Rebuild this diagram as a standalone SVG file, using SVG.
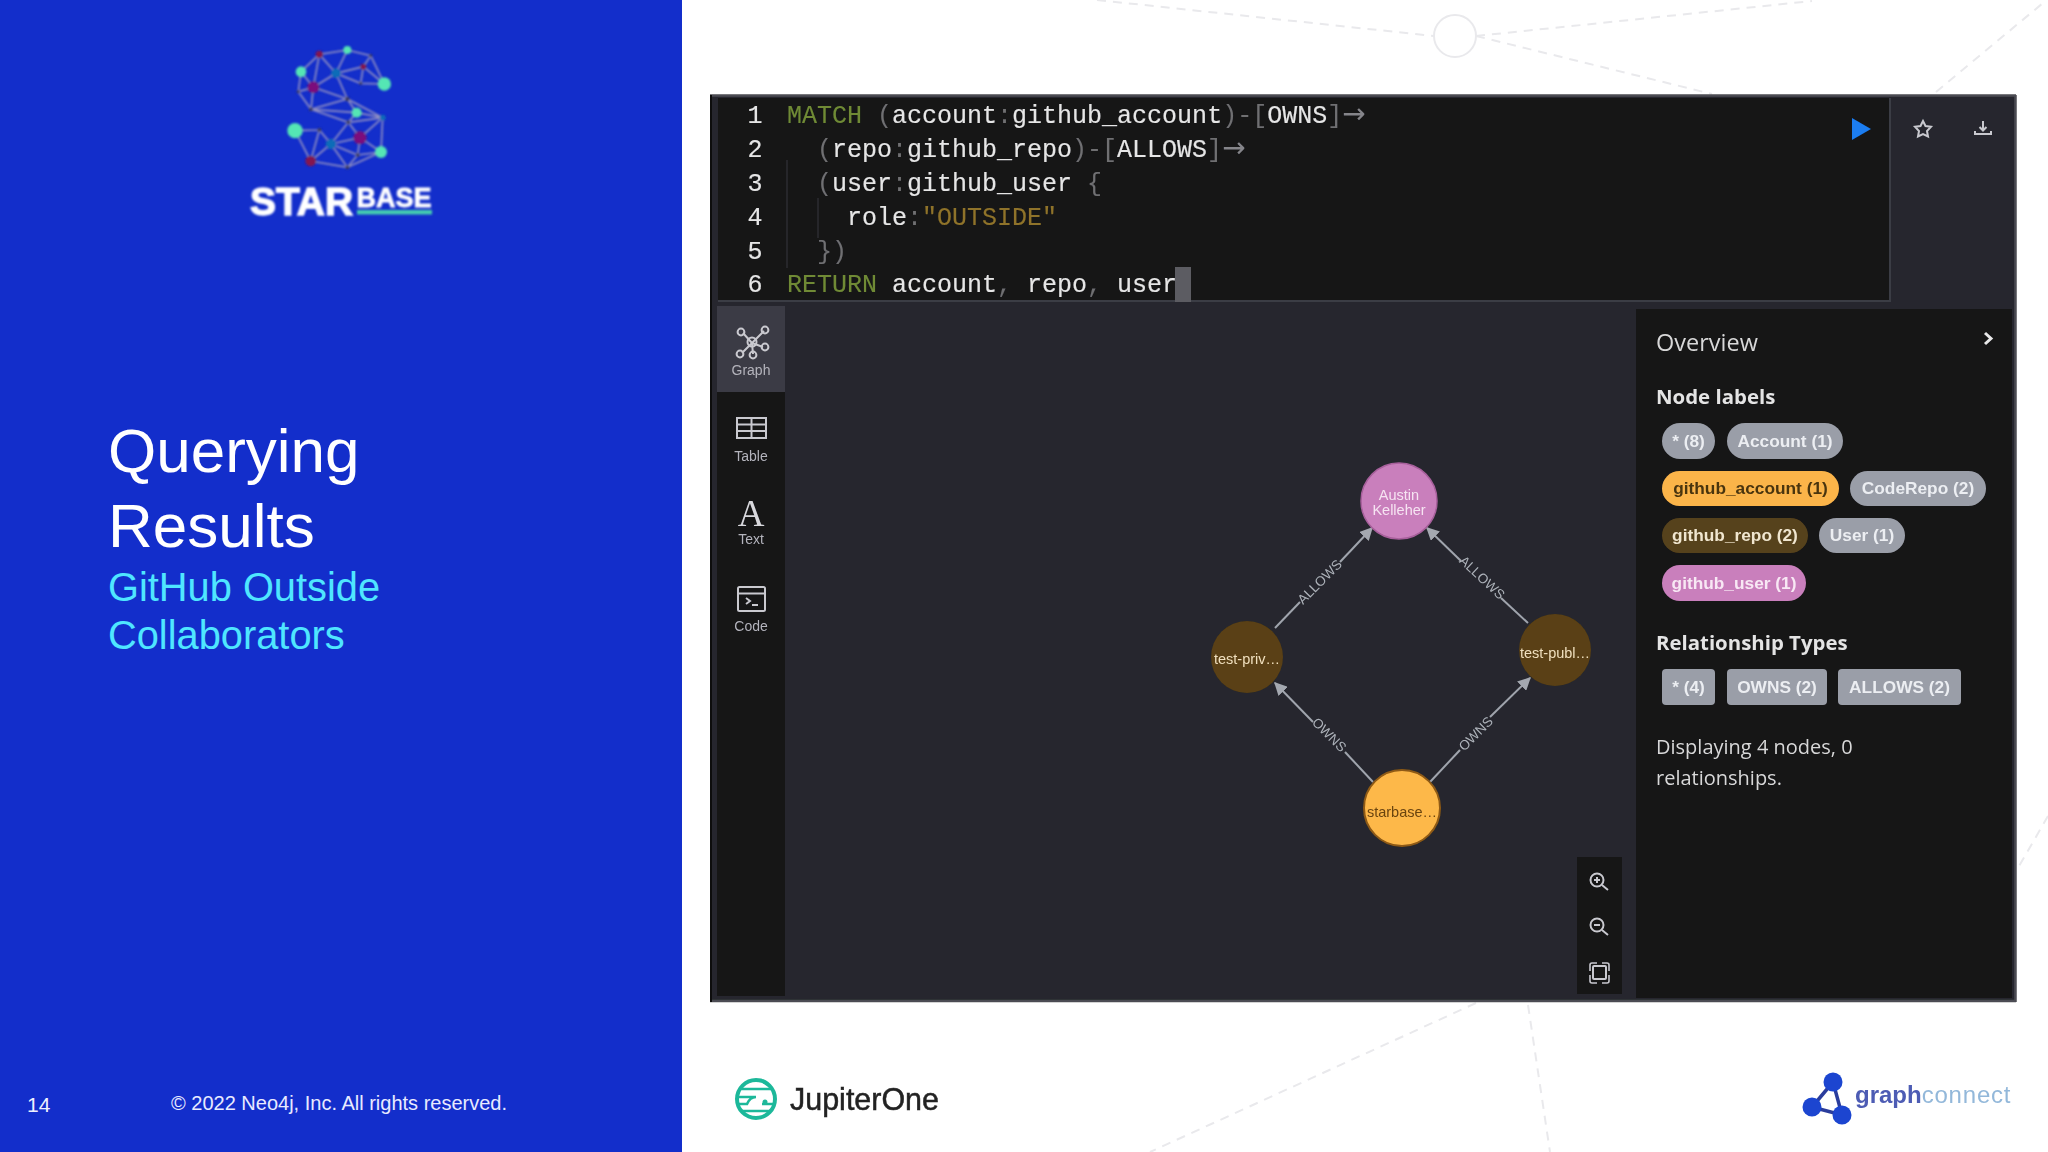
<svg xmlns="http://www.w3.org/2000/svg" width="2048" height="1152" viewBox="0 0 2048 1152">
<defs>
<filter id="soft" x="-5%" y="-5%" width="110%" height="110%"><feGaussianBlur stdDeviation="0.5"/></filter>
<filter id="softer" x="-5%" y="-5%" width="110%" height="110%"><feGaussianBlur stdDeviation="0.8"/></filter>
<marker id="arrow" viewBox="0 0 10 10" refX="9" refY="5" markerWidth="13" markerHeight="13" markerUnits="userSpaceOnUse" orient="auto"><path d="M0 0L10 5L0 10Z" fill="#a4a8b0"/></marker>
</defs>
<style>
text{font-family:"Liberation Sans",Arial,sans-serif}
.deco{stroke:#e9e9ec;stroke-width:2;stroke-dasharray:9 7;fill:none}
.code{font-family:"Liberation Mono","DejaVu Sans Mono",monospace;font-size:25px;fill:#e6e6e6;stroke:#e6e6e6;stroke-width:.15}
.num{text-anchor:middle}
.kw{fill:#6f8a36;stroke:#6f8a36}
.pu{fill:#6f6f72;stroke:#6f6f72}
.str{fill:#8f732a;stroke:#8f732a}
.arr{font-family:"DejaVu Sans",sans-serif;fill:#85858a;stroke:none;font-size:28px}
.tab{font-size:14px;fill:#b4b4bc;text-anchor:middle}
.ic{fill:none;stroke:#c9c9cf;stroke-width:2}
.pan{font-family:"Open Sans",sans-serif;fill:#d8d8d8}
.h{font-family:"Open Sans",sans-serif;font-weight:700;font-size:20.4px;fill:#e4e4e4}
.pill text,.ptext{font-size:17.3px;font-weight:700;text-anchor:middle;fill:#eceef2}
.edge{stroke:#a0a4ad;stroke-width:2;fill:none}
.elab{font-size:13.5px;fill:#aeb2ba;text-anchor:middle}
.nlab{font-size:14.5px;text-anchor:middle}
.lg{stroke:#9290c2;stroke-width:5;fill:none}
</style>
<rect width="2048" height="1152" fill="#ffffff"/>

<g id="background-lines">
<path class="deco" d="M1097 0L1434 36"/>
<path class="deco" d="M1476 36L1812 1"/>
<path class="deco" d="M1476 36L1712 94"/>
<path class="deco" d="M1936 92L2043 3"/>
<path class="deco" d="M1528 1005L1550 1152"/>
<path class="deco" d="M1476 1003L1150 1152"/>
<path class="deco" d="M2048 816L2018 868"/>
<circle cx="1455" cy="36" r="21" fill="none" stroke="#e9e9ec" stroke-width="2"/>
</g>

<rect id="side-panel" width="682" height="1152" fill="#132ecb"/>

<g id="starbase-logo" filter="url(#softer)">
<g transform="translate(230 30) scale(.33333)">
<path class="lg" d="M268 73L352 60L422 77L463 162L392 160L318 130L268 73L250 172L213 125L268 73M352 60L318 130L250 172L352 207L318 130L400 110L422 77M400 110L392 160M400 110L463 162M213 125L205 185L243 238L250 172L205 185M250 172L243 238L352 207L458 263L380 248L243 238L355 277L458 263L352 207L380 248L355 277L390 323L458 263L453 366L390 323L303 342L355 277M458 263L453 366L383 375L352 412L453 366M390 323L383 375L303 342L352 412L242 393L303 342L268 300L242 393L195 302L268 300M303 342L383 375"/>
<g fill="#55e6b4">
<circle cx="352" cy="60" r="12"/><circle cx="213" cy="125" r="16"/><circle cx="463" cy="162" r="20"/><circle cx="380" cy="248" r="15"/><circle cx="195" cy="302" r="23"/><circle cx="453" cy="366" r="18"/>
</g>
<g fill="#7c0f7c">
<circle cx="268" cy="73" r="11" fill="#84124f"/><circle cx="250" cy="172" r="18"/><circle cx="400" cy="110" r="9" fill="#84124f"/><circle cx="242" cy="393" r="16" fill="#84124f"/><circle cx="390" cy="323" r="20"/>
</g>
<g fill="#0f6cb8">
<circle cx="318" cy="130" r="15"/><circle cx="303" cy="342" r="16"/><circle cx="458" cy="263" r="9"/>
</g>
<g fill="#3a3a60">
<circle cx="422" cy="77" r="5"/><circle cx="205" cy="185" r="5"/><circle cx="243" cy="238" r="6"/><circle cx="352" cy="207" r="7"/><circle cx="355" cy="277" r="6"/><circle cx="268" cy="300" r="6"/><circle cx="383" cy="375" r="6"/><circle cx="352" cy="412" r="6"/><circle cx="392" cy="160" r="5"/>
</g>
</g>
<text x="250" y="215" font-size="39" font-weight="700" fill="#fff" stroke="#fff" stroke-width="1.4" textLength="103" lengthAdjust="spacingAndGlyphs">STAR</text>
<text x="356.5" y="207" font-size="27" font-weight="700" fill="#fff" stroke="#fff" stroke-width=".8" textLength="75" lengthAdjust="spacingAndGlyphs">BASE</text>
<rect x="357" y="210" width="75" height="4.5" fill="#45cdb0"/>
</g>

<g id="slide-title">
<text x="108" y="472" font-size="62" fill="#fff">Querying</text>
<text x="108" y="546.5" font-size="62" fill="#fff">Results</text>
<text x="108" y="601" font-size="39.8" fill="#4fe6ff">GitHub Outside</text>
<text x="108" y="649" font-size="39.8" fill="#4fe6ff">Collaborators</text>
</g>
<g id="footer">
<text x="27" y="1112" font-size="21" fill="#eef0ff">14</text>
<text x="171" y="1110" font-size="20" fill="#e8eaff">© 2022 Neo4j, Inc. All rights reserved.</text>
</g>

<g id="screenshot" filter="url(#soft)">
<rect x="710" y="95" width="1306" height="907" fill="#25272e"/>
<path d="M710 95.5H2016M710 1001H2016M2015.5 95V1002" stroke="#4c4c52" stroke-width="2.5" fill="none"/>
<path d="M711 95V1002" stroke="#111" stroke-width="2"/>

<g id="editor">
<rect x="718" y="98" width="1172" height="203" fill="#131315"/>
<path d="M718 301H1890V98" stroke="#3a3c44" stroke-width="2" fill="none"/>
<path d="M787 160V268M818 198V238" stroke="#2c2c30" stroke-width="1.5"/>
<rect x="1175" y="267" width="16" height="35" fill="#5c5c62"/>
<g class="code">
<text class="code num" x="755" y="123">1</text>
<text class="code num" x="755" y="157">2</text>
<text class="code num" x="755" y="191">3</text>
<text class="code num" x="755" y="225">4</text>
<text class="code num" x="755" y="259">5</text>
<text class="code num" x="755" y="292">6</text>
<text class="code" x="787" y="122.5"><tspan class="kw">MATCH</tspan> <tspan class="pu">(</tspan>account<tspan class="pu">:</tspan>github_account<tspan class="pu">)-[</tspan>OWNS<tspan class="pu">]</tspan><tspan class="arr">→</tspan></text>
<text class="code" x="817" y="156.5"><tspan class="pu">(</tspan>repo<tspan class="pu">:</tspan>github_repo<tspan class="pu">)-[</tspan>ALLOWS<tspan class="pu">]</tspan><tspan class="arr">→</tspan></text>
<text class="code" x="817" y="190.5"><tspan class="pu">(</tspan>user<tspan class="pu">:</tspan>github_user <tspan class="pu">{</tspan></text>
<text class="code" x="847" y="224.5">role<tspan class="pu">:</tspan><tspan class="str">"OUTSIDE"</tspan></text>
<text class="code" x="817" y="258.5"><tspan class="pu">})</tspan></text>
<text class="code" x="787" y="292"><tspan class="kw">RETURN</tspan> account<tspan class="pu">,</tspan> repo<tspan class="pu">,</tspan> user</text>
</g>
<path d="M1852 118L1871 129L1852 140Z" fill="#1a7df0"/>
<path class="ic" d="M1923 121L1925.5 126L1931 126.8L1927 131L1928 136.5L1923 134L1918 136.5L1919 131L1915 126.8L1920.5 126Z"/>
<path class="ic" d="M1983 121V130M1979.5 127L1983 130.5L1986.5 127M1975 131V134H1991V131"/>
</g>

<g id="sidebar">
<rect x="717" y="306" width="68" height="690" fill="#131315"/>
<rect x="717" y="306" width="68" height="86" fill="#3b3a44"/>
<g class="ic">
<path d="M752 343L743 333M752 343L764 331M752 343L742 353M752 343L763 347M752 343L753 354"/>
<circle cx="741" cy="332" r="3.4"/><circle cx="765" cy="330" r="3.4"/><circle cx="740" cy="354" r="3.4"/><circle cx="765" cy="347" r="3.4"/><circle cx="753" cy="355" r="3.4"/><circle cx="752" cy="342" r="4.5"/>
</g>
<text class="tab" x="751" y="375">Graph</text>
<g class="ic"><rect x="737" y="418" width="29" height="20"/><path d="M737 424.5H766M737 431H766M751.5 418V438" /></g>
<text class="tab" x="751" y="461">Table</text>
<text x="751" y="526" font-size="37" text-anchor="middle" fill="#d8d8dc" style="font-family:'Liberation Serif',serif">A</text>
<text class="tab" x="751" y="544">Text</text>
<g class="ic"><rect x="738" y="587" width="27" height="24" rx="1.5"/><path d="M738 593.5H765M746 598L750 601L746 604M752 605H758"/></g>
<text class="tab" x="751" y="631">Code</text>
</g>

<g id="zoom-controls">
<rect x="1577" y="857" width="45" height="137" fill="#131315"/>
<g class="ic">
<circle cx="1597" cy="880" r="6.5"/><path d="M1602 885L1608 890M1594 880H1600M1597 877V883"/>
<circle cx="1597" cy="925" r="6.5"/><path d="M1602 930L1608 935M1594 925H1600"/>
<rect x="1593" y="966" width="13" height="13" rx="1"/><path d="M1590 971V965Q1590 963 1592 963H1597M1609 971V965Q1609 963 1607 963H1602M1590 975V981Q1590 983 1592 983H1597M1609 975V981Q1609 983 1607 983H1602" stroke-width="1.6"/>
</g>
</g>

<g id="connectors">
<path class="edge" d="M1275 628L1300 602"/><path class="edge" d="M1340 562L1372 528" marker-end="url(#arrow)"/>
<path class="edge" d="M1528 623L1501 598"/><path class="edge" d="M1461 561L1427 528" marker-end="url(#arrow)"/>
<path class="edge" d="M1373 782L1345 752"/><path class="edge" d="M1313 722L1275 683" marker-end="url(#arrow)"/>
<path class="edge" d="M1430 782L1460 750"/><path class="edge" d="M1490 717L1530 678" marker-end="url(#arrow)"/>
<text class="elab" transform="translate(1323 585) rotate(-45)">ALLOWS</text>
<text class="elab" transform="translate(1479 581) rotate(43)">ALLOWS</text>
<text class="elab" transform="translate(1326 738) rotate(45)">OWNS</text>
<text class="elab" transform="translate(1479 737) rotate(-45)">OWNS</text>
</g>

<g id="node-austin">
<circle cx="1399" cy="501" r="38" fill="#c97fbc" stroke="#a8609c" stroke-width="1.5"/>
<text class="nlab" x="1399" y="500" fill="#f6e4f2">Austin</text>
<text class="nlab" x="1399" y="515" fill="#f6e4f2">Kelleher</text>
</g>
<g id="node-test-priv">
<circle cx="1247" cy="657" r="36" fill="#5a3f12"/>
<text class="nlab" x="1247" y="664" fill="#f0e0c0">test-priv…</text>
</g>
<g id="node-test-publ">
<circle cx="1555" cy="650" r="36" fill="#5a3f12"/>
<text class="nlab" x="1555" y="658" fill="#f0e0c0">test-publ…</text>
</g>
<g id="node-starbase">
<circle cx="1402" cy="808" r="38" fill="#fdb84a" stroke="#8f5a14" stroke-width="2"/>
<text class="nlab" x="1402" y="817" fill="#6a4410">starbase…</text>
</g>

<g id="overview">
<rect x="1636" y="309" width="376" height="689" fill="#131315"/>
<text class="pan" x="1656" y="351" font-size="23.5">Overview</text>
<path d="M1985 333L1991 338.5L1985 344" fill="none" stroke="#e8e8e8" stroke-width="3"/>
<text class="h" x="1656" y="404">Node labels</text>
<g id="pill-all" class="pill"><rect x="1662" y="423" width="53" height="36" rx="18" fill="#9a9ea8"/><text x="1688.5" y="447">* (8)</text></g>
<g id="pill-account" class="pill"><rect x="1727" y="423" width="116" height="36" rx="18" fill="#9a9ea8"/><text x="1785" y="447">Account (1)</text></g>
<g id="pill-github-account" class="pill"><rect x="1662" y="471" width="177" height="35" rx="17.5" fill="#fbb44a"/><text x="1750.5" y="494" style="fill:#4a3410">github_account (1)</text></g>
<g id="pill-coderepo" class="pill"><rect x="1850" y="471" width="136" height="35" rx="17.5" fill="#9a9ea8"/><text x="1918" y="494">CodeRepo (2)</text></g>
<g id="pill-github-repo" class="pill"><rect x="1662" y="518" width="146" height="35" rx="17.5" fill="#57421c"/><text x="1735" y="541" style="fill:#f0e6cf">github_repo (2)</text></g>
<g id="pill-user" class="pill"><rect x="1819" y="518" width="86" height="35" rx="17.5" fill="#9a9ea8"/><text x="1862" y="541">User (1)</text></g>
<g id="pill-github-user" class="pill"><rect x="1662" y="565" width="144" height="36" rx="18" fill="#c97fbc"/><text x="1734" y="589" style="fill:#f8e8f4">github_user (1)</text></g>
<text class="h" x="1656" y="650">Relationship Types</text>
<g id="type-all" class="pill"><rect x="1662" y="669" width="53" height="36" rx="4" fill="#9a9ea8"/><text x="1688.5" y="693">* (4)</text></g>
<g id="type-owns" class="pill"><rect x="1727" y="669" width="100" height="36" rx="4" fill="#9a9ea8"/><text x="1777" y="693">OWNS (2)</text></g>
<g id="type-allows" class="pill"><rect x="1838" y="669" width="123" height="36" rx="4" fill="#9a9ea8"/><text x="1899.5" y="693">ALLOWS (2)</text></g>
<text class="pan" x="1656" y="754" font-size="20">Displaying 4 nodes, 0</text>
<text class="pan" x="1656" y="785" font-size="20">relationships.</text>
</g>
</g>

<g id="jupiterone-logo" filter="url(#soft)">
<circle cx="756" cy="1099" r="19" fill="none" stroke="#1fb89a" stroke-width="4"/>
<path d="M739 1089H773M738 1097H756Q750 1097 747 1104H738M762 1104H775M741 1111H771" fill="none" stroke="#1fb89a" stroke-width="2.6"/>
<circle cx="765" cy="1102" r="2.5" fill="#1fb89a"/>
<text x="790" y="1110" font-size="32" fill="#222" stroke="#222" stroke-width=".5" textLength="149" lengthAdjust="spacingAndGlyphs">JupiterOne</text>
</g>

<g id="graphconnect-logo" filter="url(#soft)">
<path d="M1833 1082L1812 1107L1842 1115Z" fill="none" stroke="#2c3c9c" stroke-width="3.5"/>
<circle cx="1833" cy="1082" r="9.5" fill="#1a45d0"/><circle cx="1812" cy="1107" r="9.5" fill="#1a45d0"/><circle cx="1842" cy="1115" r="9.5" fill="#1a45d0"/>
<text x="1855" y="1103" font-size="24"><tspan font-weight="700" fill="#4e5cb4">graph</tspan><tspan fill="#93b8da" letter-spacing=".8">connect</tspan></text>
</g>
</svg>
